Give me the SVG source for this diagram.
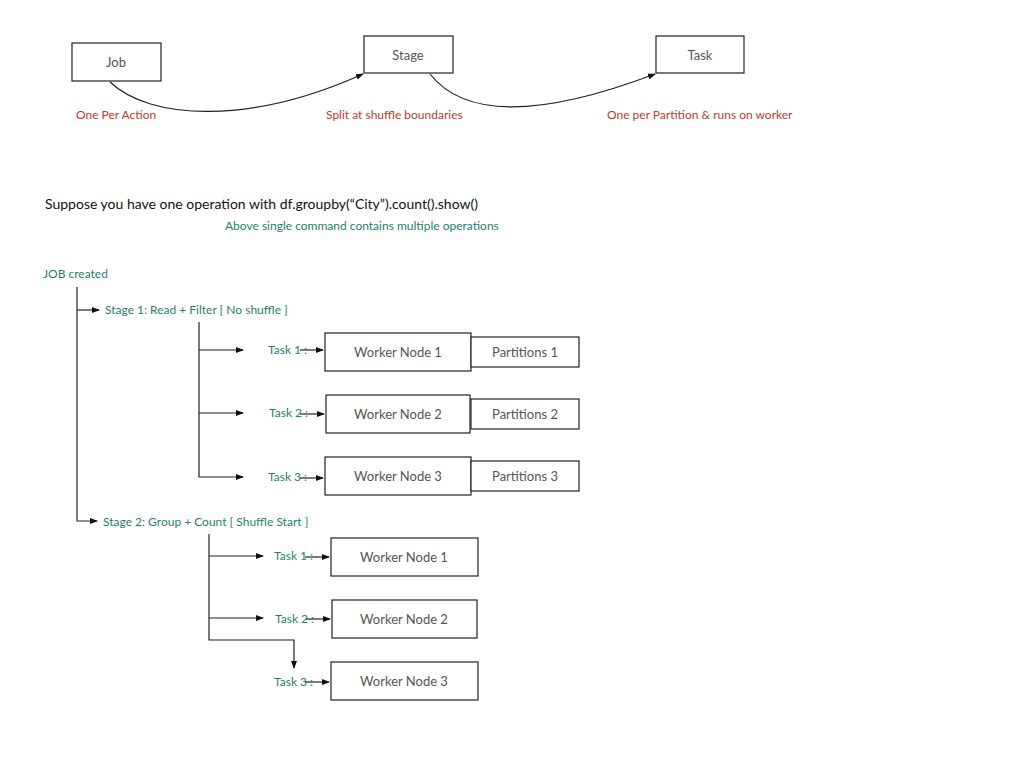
<svg xmlns="http://www.w3.org/2000/svg" width="1024" height="768" viewBox="0 0 1024 768">
<style>
.box{fill:#fff;stroke:#222;stroke-width:1.2}
.nt{font-family:"Lato","Liberation Sans",sans-serif;font-size:13px;fill:#555;text-anchor:middle}
.red{font-family:"Lato","Liberation Sans",sans-serif;font-size:12px;fill:#c0392b}
.grn{font-family:"Lato","Liberation Sans",sans-serif;font-size:12px;fill:#1f7f6c}
.ln{fill:none;stroke:#222;stroke-width:1.2}
</style>
<defs><marker id="a" markerWidth="8" markerHeight="8" refX="7" refY="4" orient="auto" markerUnits="userSpaceOnUse"><path d="M0,1 L8,4 L0,7z" fill="#111"/></marker></defs>
<rect width="1024" height="768" fill="#fff"/>
<g id="job"><rect class="box" x="72" y="43" width="89" height="38"/><text class="nt" x="116" y="67">Job</text></g>
<g id="stage"><rect class="box" x="364" y="36" width="89" height="37"/><text class="nt" x="408" y="60">Stage</text></g>
<g id="task"><rect class="box" x="656" y="36" width="88" height="37"/><text class="nt" x="700" y="60">Task</text></g>
<text class="red" x="76" y="119">One Per Action</text>
<text class="red" x="326" y="119">Split at shuffle boundaries</text>
<text class="red" x="607" y="119">One per Partition &amp; runs on worker</text>
<text x="45" y="209" font-family="Lato,'Liberation Sans',sans-serif" font-size="14" fill="#111">Suppose you have one operation with df.groupby(“City”).count().show()</text>
<text class="grn" x="225" y="230">Above single command contains multiple operations</text>
<text class="grn" x="43" y="278">JOB created</text>
<text class="grn" x="105" y="314">Stage 1: Read + Filter [ No shuffle ]</text>
<text class="grn" x="103" y="526">Stage 2: Group  + Count [ Shuffle Start ]</text>
<g id="s1w1"><rect class="box" x="325" y="333" width="146" height="38"/><text class="nt" x="398" y="357">Worker Node 1</text></g>
<g id="s1p1"><rect class="box" x="471" y="337" width="108" height="30"/><text class="nt" x="525" y="357">Partitions 1</text></g>
<g id="s1w2"><rect class="box" x="326" y="395" width="144" height="38"/><text class="nt" x="398" y="419">Worker Node 2</text></g>
<g id="s1p2"><rect class="box" x="471" y="399" width="108" height="30"/><text class="nt" x="525" y="419">Partitions 2</text></g>
<g id="s1w3"><rect class="box" x="325" y="457" width="146" height="38"/><text class="nt" x="398" y="481">Worker Node 3</text></g>
<g id="s1p3"><rect class="box" x="471" y="461" width="108" height="30"/><text class="nt" x="525" y="481">Partitions 3</text></g>
<g id="s2w1"><rect class="box" x="331" y="538" width="147" height="38"/><text class="nt" x="404" y="562">Worker Node 1</text></g>
<g id="s2w2"><rect class="box" x="332" y="600" width="145" height="38"/><text class="nt" x="404" y="624">Worker Node 2</text></g>
<g id="s2w3"><rect class="box" x="331" y="662" width="147" height="38"/><text class="nt" x="404" y="686">Worker Node 3</text></g>
<text class="grn" x="268" y="354">Task 1 :</text>
<text class="grn" x="269" y="417">Task 2 :</text>
<text class="grn" x="268" y="481">Task 3 :</text>
<text class="grn" x="274" y="560">Task 1 :</text>
<text class="grn" x="275" y="623">Task 2 :</text>
<text class="grn" x="274" y="686">Task 3 :</text>
<g id="connectors">
<path class="ln" d="M110,82 C150,120 250,125 363,74" marker-end="url(#a)"/>
<path class="ln" d="M430,74 C470,125 560,110 655,74" marker-end="url(#a)"/>
<path class="ln" d="M77,287 V521 H97" marker-end="url(#a)"/>
<path class="ln" d="M77,310 H99" marker-end="url(#a)"/>
<path class="ln" d="M199,322 V477 H243" marker-end="url(#a)"/>
<path class="ln" d="M199,350 H243" marker-end="url(#a)"/>
<path class="ln" d="M199,413 H243" marker-end="url(#a)"/>
<path class="ln" d="M300,350 H323" marker-end="url(#a)"/>
<path class="ln" d="M300,414 H324" marker-end="url(#a)"/>
<path class="ln" d="M300,478 H323" marker-end="url(#a)"/>
<path class="ln" d="M209,534 V640 H294 V668" marker-end="url(#a)"/>
<path class="ln" d="M209,556 H263" marker-end="url(#a)"/>
<path class="ln" d="M209,618 H263" marker-end="url(#a)"/>
<path class="ln" d="M305,557 H329" marker-end="url(#a)"/>
<path class="ln" d="M306,619 H330" marker-end="url(#a)"/>
<path class="ln" d="M305,682 H329" marker-end="url(#a)"/>
</g>
</svg>
